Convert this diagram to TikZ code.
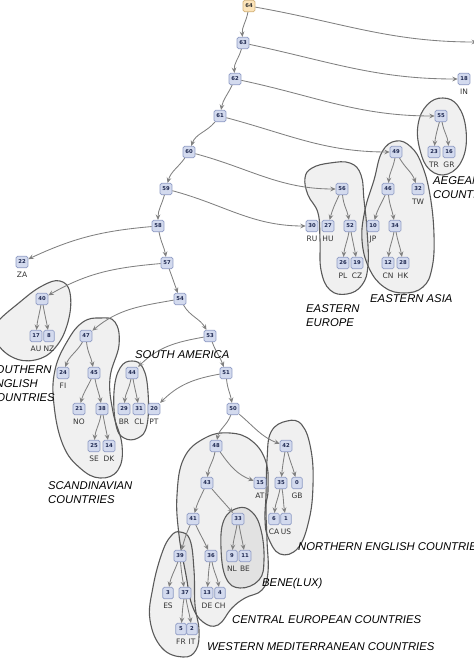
\documentclass[tikz,border=0pt]{standalone}
\usepackage{fontspec}
\setmainfont{DejaVu Sans}
\newfontfamily\grpfont{Liberation Sans}
\usepackage{tikz}
\usetikzlibrary{arrows.meta,positioning}

\definecolor{vtxfill}{HTML}{D3DAEE}
\definecolor{vtxline}{HTML}{8E9BC4}
\definecolor{vtxtext}{HTML}{1E2850}
\definecolor{rootfill}{HTML}{FCE4BA}
\definecolor{rootline}{HTML}{D2B27A}
\definecolor{edgegray}{HTML}{808080}
\definecolor{blobline}{HTML}{5A5A5A}

\begin{document}
\begin{tikzpicture}[x=1pt,y=1pt,
	vtx/.style={draw=vtxline, fill=vtxfill, rounded corners=1.5pt, line width=0.7pt, minimum width=10.5pt, minimum height=11.5pt, inner xsep=2.3pt, inner ysep=0pt, font=\bfseries\fontsize{5.3}{5.3}\selectfont, text=vtxtext},
	rootvtx/.style={vtx, draw=rootline, fill=rootfill, text=black!80},
	cty/.style={font=\fontsize{7.5}{8}\selectfont, text=black!80, inner sep=0.5pt},
	grp/.style={font=\grpfont\itshape\fontsize{11.3}{14}\selectfont, inner sep=0pt},
	blob/.style={draw=blobline, line width=1.1pt, fill=black, fill opacity=0.06},
	arr/.style={-{Stealth[length=5.5pt,width=4.8pt,inset=2.2pt]}, draw=edgegray, line width=0.85pt}]
	\clip (0,0) rectangle (474,-659);
	% groups
	\draw[blob] plot[smooth cycle, tension=0.7] coordinates {(443,-98) (458,-106) (466,-130) (463,-158) (448,-174) (430,-170) (420,-150) (418,-125) (427,-105)};
	\draw[blob] plot[smooth cycle, tension=0.7] coordinates {(396,-141) (411,-147) (422,-165) (430,-195) (434,-235) (432,-268) (423,-287) (404,-293) (384,-287) (369,-268) (362,-240) (365,-210) (374,-180) (382,-152)};
	\draw[blob] plot[smooth cycle, tension=0.7] coordinates {(330,-163) (350,-163) (361,-175) (364,-200) (367,-230) (368,-265) (362,-285) (347,-294) (330,-290) (321,-270) (320,-240) (318,-213) (308,-195) (305,-178) (312,-168)};
	\draw[blob] plot[smooth cycle, tension=0.7] coordinates {(60,-281) (70,-293) (68,-322) (55,-348) (35,-360) (12,-357) (-5,-340) (-5,-325) (20,-302) (42,-286)};
	\draw[blob] plot[smooth cycle, tension=0.7] coordinates {(100,-318) (115,-322) (119,-345) (110,-378) (113,-412) (122,-445) (118,-470) (100,-478) (80,-468) (63,-445) (54,-405) (55,-370) (68,-340) (83,-322)};
	\draw[blob] plot[smooth cycle, tension=0.7] coordinates {(132,-361) (143,-368) (148,-392) (147,-425) (138,-438) (124,-438) (116,-425) (114,-392) (120,-368)};
	\draw[blob] plot[smooth cycle, tension=0.7] coordinates {(287,-421) (302,-425) (311,-450) (313,-485) (309,-520) (298,-548) (280,-554) (268,-537) (265,-519) (266,-495) (267,-460) (271,-432)};
	\draw[blob] plot[smooth cycle, tension=0.7] coordinates {(230,-433) (252,-441) (266,-462) (268,-490) (266,-507) (267,-540) (268,-572) (262,-590) (245,-598) (232,-608) (218,-625) (203,-622) (192,-605) (186,-575) (179,-535) (177,-495) (184,-458) (205,-438)};
	\draw[blob] plot[smooth cycle, tension=0.7] coordinates {(238,-508) (252,-512) (261,-530) (264,-560) (259,-580) (240,-588) (226,-578) (221,-548) (224,-520)};
	\draw[blob] plot[smooth cycle, tension=0.7] coordinates {(180,-532) (190,-540) (194,-570) (195,-605) (199,-630) (196,-650) (183,-657) (162,-648) (150,-620) (153,-587) (162,-553) (171,-536)};
	% tree
	\node[rootvtx] (v64) at (249,-6) {64};
	\foreach \n/\x/\y in {63/243/43, 62/235/79, 61/220/116, 60/189/152, 59/166/189, 58/158/226, 57/167/263, 54/180/299, 53/210/336, 51/226/373, 50/233/409,
		18/464/79, 55/441/116, 23/434/152, 16/449/152, 49/396/152, 56/342/189, 46/388/189, 32/418/189,
		30/312/226, 27/328/226, 52/350/226, 10/373/226, 34/395/226, 26/343/263, 19/357/263, 12/388/263, 28/403/263,
		22/22/262, 40/42/299, 17/36/336, 8/49/336, 47/86/336, 24/63/373, 45/94/373, 44/132/373,
		21/79/409, 38/102/409, 29/124/409, 31/139/409, 20/154/409, 25/94/446, 14/109/446,
		48/216/446, 42/286/446, 43/207/483, 15/260/483, 35/281/483, 0/297/483, 41/193/519, 33/238/519, 6/274/519, 1/286/519,
		39/180/556, 36/211/556, 9/232/556, 11/245/556, 3/168/593, 37/185/593, 13/207/593, 4/220/593, 5/181/629, 2/192/629}
		{\node[vtx] (v\n) at (\x,-\y) {\n};}
	\foreach \n/\c in {18/IN, 23/TR, 16/GR, 32/TW, 30/RU, 27/HU, 10/JP, 26/PL, 19/CZ, 12/CN, 28/HK, 22/ZA, 17/AU, 8/NZ, 24/FI, 21/NO,
		29/BR, 31/CL, 20/PT, 25/SE, 14/DK, 15/AT, 0/GB, 6/CA, 1/US, 9/NL, 11/BE, 3/ES, 13/DE, 4/CH, 5/FR, 2/IT}
		{\node[cty, below=3.2pt of v\n] (c\n) {\c};}
	\coordinate (vOut) at (477,-42);
	\draw[arr] (v64) to[out=-10,in=180] (vOut);
	\foreach \a/\b/\o/\i in {64/63/-100/95, 63/62/-105/95, 62/61/-115/80, 61/60/-130/70, 60/59/-125/75, 59/58/-105/90, 58/57/-80/100,
		57/54/-70/110, 54/53/-60/120, 53/51/-70/110, 51/50/-85/100,
		63/18/-12/180, 62/55/-12/180, 61/49/-15/180, 60/56/-15/180, 59/30/-15/180,
		58/22/185/25, 57/40/185/30, 54/47/190/40, 53/44/190/45, 51/20/190/45, 50/42/-40/160, 50/48/-110/80,
		55/23/-105/85, 55/16/-80/95, 49/46/-100/85, 49/32/-60/110, 46/10/-115/75, 46/34/-85/100, 34/12/-100/85, 34/28/-80/100,
		56/27/-115/75, 56/52/-85/100, 52/26/-100/85, 52/19/-80/100, 40/17/-100/85, 40/8/-80/100,
		47/24/-120/70, 47/45/-85/100, 45/21/-115/75, 45/38/-80/100, 38/25/-100/85, 38/14/-80/100, 44/29/-100/85, 44/31/-80/100,
		48/43/-100/85, 48/15/-55/160, 43/41/-115/75, 43/33/-50/130, 41/39/-115/75, 41/36/-65/115,
		39/3/-110/80, 39/37/-85/100, 37/5/-100/85, 37/2/-80/100, 36/13/-100/85, 36/4/-80/100, 33/9/-100/85, 33/11/-80/100,
		42/35/-100/85, 42/0/-75/105, 35/6/-100/85, 35/1/-80/100}
		{\draw[arr] (v\a) to[out=\o,in=\i] (v\b);}
	% group names
	\node[grp, anchor=north west, align=left] (gAeg) at (433,-176) {AEGEAN\\COUNTRIES};
	\node[grp, anchor=west] (gEAsia) at (370,-299) {EASTERN ASIA};
	\node[grp, anchor=west, align=left] (gEEur) at (306,-315.5) {EASTERN\\EUROPE};
	\node[grp, anchor=west, align=left] (gSEng) at (-12,-384) {SOUTHERN\\ENGLISH\\COUNTRIES};
	\node[grp, anchor=west] (gSAm) at (135,-355) {SOUTH AMERICA};
	\node[grp, anchor=west, align=left] (gScan) at (48,-493) {SCANDINAVIAN\\COUNTRIES};
	\node[grp, anchor=west] (gNEng) at (298,-547) {NORTHERN ENGLISH COUNTRIES};
	\node[grp, anchor=west] (gBen) at (262,-584) {BENE(LUX)};
	\node[grp, anchor=west] (gCEur) at (232,-620) {CENTRAL EUROPEAN COUNTRIES};
	\node[grp, anchor=west] (gWMed) at (207,-647) {WESTERN MEDITERRANEAN COUNTRIES};
\end{tikzpicture}
\end{document}
